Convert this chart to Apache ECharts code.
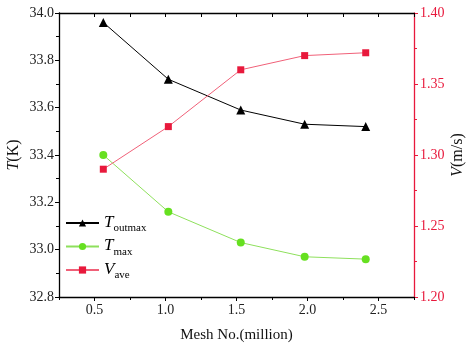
<!DOCTYPE html>
<html><head><meta charset="utf-8">
<script src="https://cdn.jsdelivr.net/npm/echarts@6/dist/echarts.min.js"></script>
<style>html,body{margin:0;padding:0;background:#fff}#c{width:474px;height:347px}</style>
</head><body><div id="c"></div>
<script>
const meshX = [0.562, 1.02, 1.53, 1.98, 2.41];
const tOutmax = [33.96, 33.72, 33.59, 33.53, 33.52];
const tMax = [33.40, 33.16, 33.03, 32.97, 32.96];
const vAve = [1.29, 1.32, 1.36, 1.37, 1.372];
const xTicks = [0.5, 1.0, 1.5, 2.0, 2.5];

const RED = '#e8193c', GREEN = '#66e020', BLACK = '#000';
const FONT = 'Liberation Serif';
const pair = (xs, ys) => xs.map((x, i) => [x, ys[i]]);

const chart = echarts.init(document.getElementById('c'), null, {renderer: 'canvas'});
const legendRich = {
  i: {fontFamily: FONT, fontStyle: 'italic', fontSize: 17, color: '#000', lineHeight: 18, verticalAlign: 'top'},
  s: {fontFamily: FONT, fontSize: 11, color: '#000', lineHeight: 12, padding: [9, 0, 0, 0], verticalAlign: 'top'}
};
chart.setOption({
  animation: false,
  grid: {left: 59, right: 60, top: 13, bottom: 50, containLabel: false, outerBoundsMode: 'none'},
  legend: {
    orient: 'vertical', left: 60, top: 209, itemWidth: 33, itemHeight: 9, itemGap: 3.5,
    data: ['Toutmax', 'Tmax', 'Vave'],
    formatter: n => '{i|' + n.charAt(0) + '}{s|' + n.slice(1) + '}',
    textStyle: {rich: legendRich, padding: [0,0,0,0]}
  },
  xAxis: [
    {type: 'value', min: 0.25, max: 2.75, position: 'bottom',
     name: 'Mesh No.(million)', nameLocation: 'middle', nameGap: 31, nameMoveOverlap: false,
     nameTextStyle: {fontFamily: FONT, fontSize: 15, color: '#111'},
     axisLine: {lineStyle: {color: BLACK, width: 1.3}},
     axisTick: {customValues: xTicks, length: 4, lineStyle: {color: BLACK}},
     axisLabel: {customValues: xTicks, fontFamily: FONT, fontSize: 14, color: '#222', margin: 6, formatter: v => v.toFixed(1)},
     splitLine: {show: false}},
    {type: 'value', min: 0.25, max: 2.75, interval: 0.25, position: 'bottom',
     axisLine: {show: false}, axisTick: {length: 3, lineStyle: {color: BLACK}},
     axisLabel: {show: false}, splitLine: {show: false}},
    {type: 'value', min: 0.25, max: 2.75, interval: 0.25, position: 'top',
     axisLine: {lineStyle: {color: BLACK, width: 1.3}}, axisTick: {inside: true, length: 4, lineStyle: {color: BLACK}},
     axisLabel: {show: false}, splitLine: {show: false}}
  ],
  yAxis: [
    {type: 'value', min: 32.8, max: 34.0, interval: 0.2, position: 'left',
     name: '{i|T}{n|(K)}', nameLocation: 'middle', nameGap: 37, nameRotate: 90, nameMoveOverlap: false,
     nameTextStyle: {rich: {i: {fontFamily: FONT, fontStyle: 'italic', fontSize: 16, color: '#111'}, n: {fontFamily: FONT, fontSize: 16, color: '#111'}}},
     axisLine: {lineStyle: {color: BLACK, width: 1.3}},
     axisTick: {length: 4, lineStyle: {color: BLACK}},
     minorTick: {show: true, splitNumber: 2, length: 3, lineStyle: {color: BLACK}},
     axisLabel: {fontFamily: FONT, fontSize: 14, color: '#222', margin: 5, formatter: v => v.toFixed(1)},
     splitLine: {show: false}},
    {type: 'value', min: 1.2, max: 1.4, interval: 0.05, position: 'right',
     name: '{i|V}{n|(m/s)}', nameLocation: 'middle', nameGap: 36, nameRotate: 90, nameMoveOverlap: false,
     nameTextStyle: {rich: {i: {fontFamily: FONT, fontStyle: 'italic', fontSize: 16, color: '#111'}, n: {fontFamily: FONT, fontSize: 16, color: '#111'}}},
     axisLine: {lineStyle: {color: RED, width: 1.3}},
     axisTick: {length: 4, lineStyle: {color: RED}},
     minorTick: {show: true, splitNumber: 2, length: 3, lineStyle: {color: RED}},
     axisLabel: {fontFamily: FONT, fontSize: 14, color: RED, margin: 6, formatter: v => v.toFixed(2)},
     splitLine: {show: false}}
  ],
  series: [
    {name: 'Toutmax', type: 'line', xAxisIndex: 0, yAxisIndex: 0, data: pair(meshX, tOutmax),
     symbol: 'triangle', symbolSize: 9, lineStyle: {color: BLACK, width: 1}, itemStyle: {color: BLACK}},
    {name: 'Tmax', type: 'line', xAxisIndex: 0, yAxisIndex: 0, data: pair(meshX, tMax),
     symbol: 'circle', symbolSize: 8, lineStyle: {color: '#8ee05c', width: 1}, itemStyle: {color: GREEN}},
    {name: 'Vave', type: 'line', xAxisIndex: 0, yAxisIndex: 1, data: pair(meshX, vAve),
     symbol: 'rect', symbolSize: 7, lineStyle: {color: '#f06078', width: 1}, itemStyle: {color: RED}}
  ]
});
</script></body></html>
